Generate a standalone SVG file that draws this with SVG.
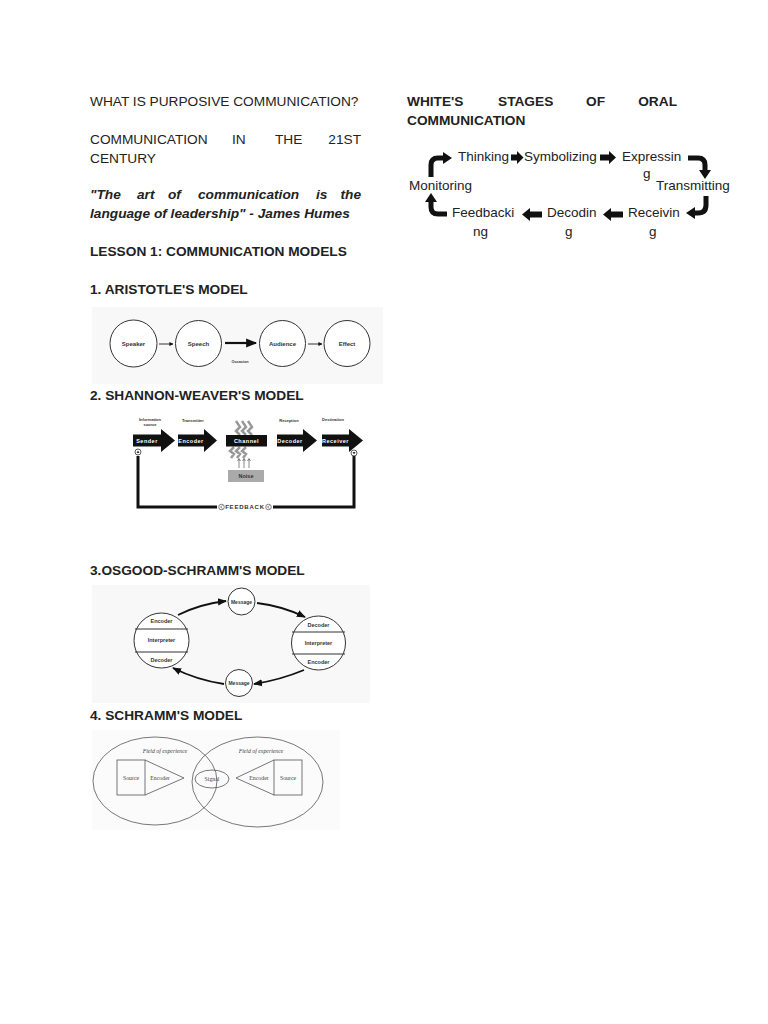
<svg xmlns="http://www.w3.org/2000/svg" width="768" height="1024" viewBox="0 0 768 1024">
<style>
.t{font-family:"Liberation Sans",Arial,sans-serif;font-size:13.7px;fill:#222}
.b{font-weight:bold}
.bi{font-weight:bold;font-style:italic}
.w{font-family:"Liberation Sans",Arial,sans-serif;font-size:13.5px;fill:#222}
.s{font-family:"Liberation Sans",Arial,sans-serif;font-weight:bold;fill:#333;text-anchor:middle}
.sw{font-family:"Liberation Sans",Arial,sans-serif;font-weight:bold;fill:#fff;text-anchor:middle;font-size:5.5px;letter-spacing:0.5px}
.sr{font-family:"Liberation Serif","Times New Roman",serif;fill:#444;text-anchor:middle;font-size:5.8px}
.c{fill:#fff;stroke:#333;stroke-width:1}
.ln{fill:none;stroke:#555;stroke-width:0.8}
.blk{fill:#111}
.cv{fill:none;stroke:#111;stroke-width:5}
.os{fill:none;stroke:#111;stroke-width:1.8}
.zz{fill:none;stroke:#999;stroke-width:2.5}
</style>
<defs>
<marker id="ah" viewBox="0 0 10 10" refX="9" refY="5" markerWidth="4" markerHeight="4" orient="auto"><path d="M0,0 L10,5 L0,10 z" fill="#111"/></marker>
<marker id="ah2" viewBox="0 0 10 10" refX="9" refY="5" markerWidth="5" markerHeight="5" orient="auto"><path d="M0,1 L10,5 L0,9 z" fill="#111"/></marker>
</defs>
<rect width="768" height="1024" fill="#fff"/>

<!-- Left column text -->
<text class="t" x="90" y="106">WHAT IS PURPOSIVE COMMUNICATION?</text>
<text class="t" x="90" y="144">COMMUNICATION</text>
<text class="t" x="232" y="144">IN</text>
<text class="t" x="275" y="144">THE</text>
<text class="t" x="361" y="144" text-anchor="end">21ST</text>
<text class="t" x="90" y="163">CENTURY</text>
<text class="t bi" x="90" y="199">"The</text>
<text class="t bi" x="137" y="199">art</text>
<text class="t bi" x="168" y="199">of</text>
<text class="t bi" x="198" y="199">communication</text>
<text class="t bi" x="316" y="199">is</text>
<text class="t bi" x="361" y="199" text-anchor="end">the</text>
<text class="t bi" x="90" y="218">language of leadership" - James Humes</text>
<text class="t b" x="90" y="256">LESSON 1: COMMUNICATION MODELS</text>
<text class="t b" x="90" y="294">1. ARISTOTLE'S MODEL</text>
<text class="t b" x="90" y="400">2. SHANNON-WEAVER'S MODEL</text>
<text class="t b" x="90" y="575">3.OSGOOD-SCHRAMM'S MODEL</text>
<text class="t b" x="90" y="720">4. SCHRAMM'S MODEL</text>

<!-- Right column heading -->
<text class="t b" x="407" y="106">WHITE'S</text>
<text class="t b" x="498" y="106">STAGES</text>
<text class="t b" x="586" y="106">OF</text>
<text class="t b" x="677" y="106" text-anchor="end">ORAL</text>
<text class="t b" x="407" y="125">COMMUNICATION</text>

<!-- Aristotle's model -->
<rect x="92" y="307" width="291" height="77" fill="#f8f8f8"/>
<g id="ar-speaker"><circle class="c" cx="133.5" cy="343.5" r="23.5"/><text class="s" x="133.5" y="345.5" font-size="6">Speaker</text></g>
<g id="ar-speech"><circle class="c" cx="198.5" cy="343.5" r="23"/><text class="s" x="198.5" y="345.5" font-size="6">Speech</text></g>
<g id="ar-audience"><circle class="c" cx="282.5" cy="343.5" r="23"/><text class="s" x="282.5" y="345.5" font-size="6">Audience</text></g>
<g id="ar-effect"><circle class="c" cx="347" cy="343.5" r="23"/><text class="s" x="347" y="345.5" font-size="6">Effect</text></g>
<g id="ar-edges">
<line x1="159" y1="344" x2="173" y2="344" stroke="#333" stroke-width="1" marker-end="url(#ah)"/>
<line x1="225" y1="343" x2="256" y2="343" stroke="#111" stroke-width="2.2" marker-end="url(#ah2)"/>
<line x1="308" y1="344" x2="322" y2="344" stroke="#333" stroke-width="1" marker-end="url(#ah)"/>
<text class="s" x="240" y="363" font-size="3.8" font-weight="normal">Occasion</text>
</g>

<!-- Shannon-Weaver model -->
<g id="sw-labels" class="s" font-size="4" font-weight="normal">
<text x="150" y="421" font-size="4">Information</text>
<text x="150" y="425.5" font-size="4">source</text>
<text x="193" y="422" font-size="4">Transmitter</text>
<text x="289" y="422" font-size="4">Reception</text>
<text x="333" y="421" font-size="4">Destination</text>
</g>
<g id="sw-sender"><path class="blk" d="M133,434.5 H161 V429 L175,440.5 L161,452 V446.5 H133 z"/><text class="sw" x="147" y="442.5">Sender</text></g>
<g id="sw-encoder"><path class="blk" d="M178,434.5 H204 V429 L217,440.5 L204,452 V446.5 H178 z"/><text class="sw" x="191" y="442.5">Encoder</text></g>
<g id="sw-channel">
<path class="zz" d="M236,421 L240,427 L236,431 L240,435 M242,421 L246,427 L242,431 L246,435 M248,421 L252,427 L248,431 L252,435"/>
<path class="zz" d="M234,447 L230,451 L234,454 L231,458 M240,447 L236,451 L240,454 L237,458 M246,447 L242,451 L246,454 L243,458"/>
<rect class="blk" x="226" y="435" width="41" height="11.5"/><text class="sw" x="246.5" y="442.5">Channel</text></g>
<g id="sw-decoder"><path class="blk" d="M277,434.5 H303 V429 L317,440.5 L303,452 V446.5 H277 z"/><text class="sw" x="290" y="442.5">Decoder</text></g>
<g id="sw-receiver"><path class="blk" d="M322,434.5 H349 V429 L363,440.5 L349,452 V446.5 H322 z"/><text class="sw" x="335.5" y="442.5">Receiver</text></g>
<g id="sw-noise">
<g stroke="#555" stroke-width="0.7" fill="none">
<path d="M239,468 V459 M237.5,461 L239,458.5 L240.5,461"/>
<path d="M244,468 V459 M242.5,461 L244,458.5 L245.5,461"/>
<path d="M249,468 V459 M247.5,461 L249,458.5 L250.5,461"/>
</g>
<rect x="228" y="470" width="36" height="12" fill="#aaa"/><text class="s" x="246" y="478" font-size="5.5" fill="#333">Noise</text></g>
<g id="sw-feedback">
<path d="M138,456 V507 H217 M273,507 H354 V456" fill="none" stroke="#111" stroke-width="3"/>
<circle cx="138" cy="452" r="3" fill="#fff" stroke="#333" stroke-width="0.8"/><path d="M136.5,453 L138,450.5 L139.5,453 z" fill="#333"/>
<circle cx="354" cy="453" r="3" fill="#fff" stroke="#333" stroke-width="0.8"/><path d="M352.5,452 L354,454.5 L355.5,452 z" fill="#333"/>
<circle cx="221.5" cy="507" r="2.8" fill="#fff" stroke="#333" stroke-width="0.6"/><path d="M222.5,505.5 L220.5,507 L222.5,508.5" fill="none" stroke="#333" stroke-width="0.6"/>
<circle cx="268.5" cy="507" r="2.8" fill="#fff" stroke="#333" stroke-width="0.6"/><path d="M269.5,505.5 L267.5,507 L269.5,508.5" fill="none" stroke="#333" stroke-width="0.6"/>
<text class="s" x="245" y="509" font-size="6" font-weight="normal" letter-spacing="0.8" fill="#222">FEEDBACK</text>
</g>

<!-- Osgood-Schramm model -->
<rect x="92" y="585" width="278" height="118" fill="#f8f8f8"/>
<g id="os-left">
<circle class="c" cx="161.5" cy="640.5" r="27.5" stroke-width="1.2"/>
<line x1="135" y1="629" x2="188" y2="629" stroke="#333" stroke-width="1.2"/>
<line x1="135" y1="652" x2="188" y2="652" stroke="#333" stroke-width="1.2"/>
<text class="s" x="161.5" y="623" font-size="5.5" font-weight="normal">Encoder</text>
<text class="s" x="161.5" y="642" font-size="5.5" font-weight="normal">Interpreter</text>
<text class="s" x="161.5" y="662" font-size="5.5" font-weight="normal">Decoder</text>
</g>
<g id="os-right">
<circle class="c" cx="318.5" cy="643" r="27" stroke-width="1.2"/>
<line x1="292" y1="632" x2="345" y2="632" stroke="#333" stroke-width="1.2"/>
<line x1="292" y1="654" x2="345" y2="654" stroke="#333" stroke-width="1.2"/>
<text class="s" x="318.5" y="627" font-size="5.5" font-weight="normal">Decoder</text>
<text class="s" x="318.5" y="645" font-size="5.5" font-weight="normal">Interpreter</text>
<text class="s" x="318.5" y="664" font-size="5.5" font-weight="normal">Encoder</text>
</g>
<g id="os-msg-top"><circle class="c" cx="241.5" cy="601.5" r="13.5" stroke-width="0.8"/><text class="s" x="241.5" y="603.5" font-size="5">Message</text></g>
<g id="os-msg-bottom"><circle class="c" cx="239" cy="683" r="13.5" stroke-width="0.8"/><text class="s" x="239" y="685" font-size="5">Message</text></g>
<g id="os-edges">
<path class="os" d="M178,615 Q200,604 226,601" marker-end="url(#ah2)"/>
<path class="os" d="M257,603 Q282,606 305,617" marker-end="url(#ah2)"/>
<path class="os" d="M304,670 Q280,680 254,684" marker-end="url(#ah2)"/>
<path class="os" d="M224,684 Q197,680 173,668" marker-end="url(#ah2)"/>
</g>

<!-- Schramm's model -->
<rect x="92" y="730" width="248" height="100" fill="#fbfbfb"/>
<g id="sc-field-left"><ellipse cx="155" cy="781" rx="62" ry="44" class="ln"/><text class="sr" x="165" y="753" font-style="italic">Field of experience</text></g>
<g id="sc-field-right"><ellipse cx="257.5" cy="782" rx="65.5" ry="45" class="ln"/><text class="sr" x="261" y="753" font-style="italic">Field of experience</text></g>
<g id="sc-source-left"><rect x="117" y="760" width="28" height="35" class="ln"/><text class="sr" x="131" y="780">Source</text></g>
<g id="sc-encoder-left"><path d="M145,760 L184,778 L145,795" class="ln"/><text class="sr" x="160" y="780">Encoder</text></g>
<g id="sc-signal"><ellipse cx="212" cy="779" rx="17" ry="9" class="ln"/><text class="sr" x="212" y="781">Signal</text></g>
<g id="sc-encoder-right"><path d="M274,760 L236,778 L274,795" class="ln"/><text class="sr" x="259" y="780">Encoder</text></g>
<g id="sc-source-right"><rect x="274" y="760" width="28" height="35" class="ln"/><text class="sr" x="288" y="780">Source</text></g>

<!-- White's stages -->
<g id="wh-thinking"><text class="w" x="458" y="161">Thinking</text></g>
<g id="wh-symbolizing"><text class="w" x="524" y="161">Symbolizing</text></g>
<g id="wh-expressing"><text class="w" x="622" y="161">Expressin</text><text class="w" x="643" y="178">g</text></g>
<g id="wh-transmitting"><text class="w" x="656" y="190">Transmitting</text></g>
<g id="wh-receiving"><text class="w" x="628" y="217">Receivin</text><text class="w" x="649" y="236">g</text></g>
<g id="wh-decoding"><text class="w" x="547" y="217">Decodin</text><text class="w" x="565" y="236">g</text></g>
<g id="wh-feedbacking"><text class="w" x="452" y="217">Feedbacki</text><text class="w" x="473" y="236">ng</text></g>
<g id="wh-monitoring"><text class="w" x="409" y="190">Monitoring</text></g>
<g id="wh-edges" fill="#111">
<path d="M511,154.5 H517 V151 L523.5,157.5 L517,164 V160.5 H511 z"/>
<path d="M600,154.5 H609 V151 L616,157.5 L609,164 V160.5 H600 z"/>
<path class="cv" d="M688,158 H698 Q705,158 705,165 V170"/>
<path d="M699,170 H711 L705,179 z"/>
<path class="cv" d="M706,196 V205 Q706,213 698,213 H695"/>
<path d="M695,207 V219 L686,213 z"/>
<path d="M623,211.5 H611 V208 L603,214.5 L611,221 V217.5 H623 z"/>
<path d="M542,211.5 H530 V208 L522,214.5 L530,221 V217.5 H542 z"/>
<path class="cv" d="M447,214 H438 Q431,214 431,207 V202"/>
<path d="M425,202 H437 L431,193 z"/>
<path class="cv" d="M431,177 V165 Q431,158 438,158 H443"/>
<path d="M443,152 V164 L452,158 z"/>
</g>
</svg>
